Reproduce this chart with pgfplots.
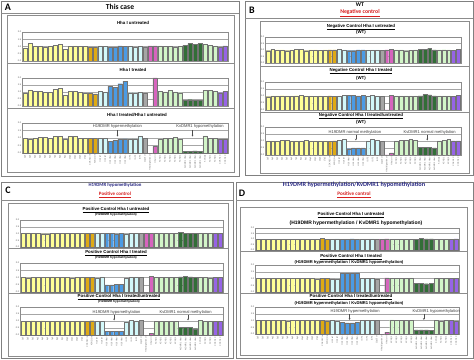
\documentclass[border=0pt]{standalone}
\usepackage{fontspec}
\setmainfont{Liberation Sans}
\newfontfamily\hdr{Carlito}
\usepackage{pgfplots}
\pgfplotsset{compat=1.18}
\usepackage{pgfplotstable}
\usetikzlibrary{arrows.meta}

\definecolor{cY}{RGB}{255,255,150}
\definecolor{cGd}{RGB}{222,170,20}
\definecolor{cLC}{RGB}{210,248,250}
\definecolor{cB}{RGB}{75,155,228}
\definecolor{cGr}{RGB}{165,165,165}
\definecolor{cP}{RGB}{215,100,190}
\definecolor{cLG}{RGB}{210,245,200}
\definecolor{cDG}{RGB}{50,110,55}
\definecolor{cPu}{RGB}{150,100,230}
\definecolor{navy}{RGB}{40,40,130}
\definecolor{hred}{RGB}{215,30,30}

\pgfplotstableread{
x  A1   A2   A3   B1   B2   B3   C1   C2   C3   D1   D2   D3
0  0.90 0.92 1.00 0.95 0.95 1.00 1.00 1.00 1.00 1.00 1.00 1.00
1  1.20 1.16 0.95 1.05 1.00 1.00 1.05 0.98 1.00 1.00 1.02 1.00
2  1.05 1.04 1.00 1.00 1.00 0.97 1.02 1.00 1.02 1.00 1.02 1.00
3  1.00 1.04 1.05 1.00 1.02 1.05 1.00 1.00 1.00 0.98 1.02 1.02
4  0.95 0.96 1.05 0.95 1.00 1.05 0.98 1.00 1.02 0.98 1.00 1.02
5  1.00 0.96 1.00 1.00 1.00 1.00 0.98 1.02 1.00 1.00 1.00 1.00
6  1.10 1.20 1.10 1.05 1.02 1.00 1.02 1.05 1.00 1.00 1.02 0.98
7  1.15 1.27 1.10 1.05 1.05 1.00 1.02 1.02 1.00 0.98 1.00 1.00
8  0.80 0.80 0.90 0.95 1.00 1.05 1.00 1.00 1.02 1.00 1.00 1.00
9  1.00 1.04 1.10 1.00 1.00 1.00 1.00 1.00 1.00 1.00 1.00 1.02
10 1.05 1.04 1.10 1.00 0.98 1.00 1.00 0.98 1.00 1.00 1.00 1.02
11 1.00 0.96 1.00 0.98 1.00 1.00 1.00 1.00 0.98 1.00 1.00 1.00
12 1.00 0.92 1.00 1.00 0.98 1.00 1.00 1.00 1.00 1.00 0.98 1.02
13 0.95 0.92 1.00 1.00 1.00 0.98 1.02 1.00 1.00 1.05 1.02 1.02
14 0.95 0.87 1.00 1.00 0.98 1.00 1.00 1.00 1.02 1.00 1.00 0.98
15 1.05 1.04 1.00 1.05 1.00 1.05 1.05 0.98 1.00 1.00 0.95 1.00
16 1.00 1.00 1.00 1.00 1.05 1.10 1.00 1.05 1.00 1.02 0.98 0.98
17 0.95 1.41 0.78 0.95 1.05 0.45 1.00 0.50 0.25 1.00 1.40 0.85
18 0.95 1.33 0.85 0.95 1.05 0.50 1.00 0.50 0.25 1.00 1.38 0.82
19 1.05 1.59 0.92 1.00 1.00 0.50 0.98 0.55 0.25 1.02 1.40 0.82
20 1.00 1.77 0.95 1.00 1.05 0.50 1.00 0.55 0.28 1.00 1.42 0.85
21 1.00 0.95 0.95 0.98 1.00 1.00 0.98 0.95 0.95 1.00 1.02 1.00
22 0.95 0.95 0.95 1.00 1.05 1.10 1.00 1.05 1.05 1.00 1.00 1.00
23 1.00 0.98 1.15 1.00 1.00 1.05 1.00 1.05 1.02 1.02 1.00 1.00
24 0.95 0.95 1.00 1.00 1.00 1.00 1.00 1.00 1.05 1.00 0.95 1.00
25 1.05 0.00 0.00 1.00 0.00 0.00 1.00 0.00 0.00 1.00 0.00 0.00
26 1.05 2.00 0.45 1.05 1.05 0.15 1.00 1.10 0.12 1.02 1.05 0.12
27 1.05 1.05 0.95 1.00 1.00 1.00 1.00 1.00 1.00 1.00 1.00 1.05
28 1.00 1.00 1.00 1.00 1.00 1.05 1.00 1.00 1.00 1.00 1.02 1.02
29 1.00 1.10 1.00 0.95 1.00 1.05 1.00 1.00 1.00 1.00 1.02 1.02
30 0.95 1.00 1.05 0.98 1.00 1.10 1.00 1.02 1.00 1.00 1.00 1.00
31 1.00 0.95 0.95 1.00 1.00 1.05 1.00 1.00 1.00 1.00 1.05 1.00
32 1.10 0.40 0.10 1.05 1.00 0.55 1.10 1.05 0.55 1.00 0.65 0.30
33 1.20 0.45 0.10 1.05 1.10 0.55 1.00 1.08 0.55 1.05 0.65 0.30
34 1.15 0.40 0.15 1.12 1.08 0.55 1.00 1.05 0.55 1.02 0.62 0.30
35 1.20 0.40 0.10 1.00 1.00 0.50 1.00 1.00 0.45 1.02 0.65 0.28
36 1.15 1.10 1.15 1.00 1.00 1.00 1.00 1.00 1.05 1.00 1.00 1.00
37 1.10 1.10 1.00 1.02 1.00 1.05 1.02 1.00 1.00 1.00 1.00 0.98
38 1.05 1.05 1.00 1.00 1.00 1.10 1.00 0.98 1.00 1.00 1.00 1.00
39 0.95 0.95 0.90 0.98 0.98 1.00 1.02 1.00 1.00 0.98 1.00 1.00
40 1.05 1.05 0.90 1.05 1.05 1.00 1.00 1.02 0.98 1.02 1.02 0.95
}\data

\tikzset{
  ann/.style={font=\fontsize{4.1}{4.5}\selectfont, text=black!75, inner sep=0pt},
  annarrow/.style={-{Stealth[length=1.6pt,width=1.8pt]}, line width=0.35pt, black!70},
}
\pgfplotsset{
  mybar/.style={ybar, bar width=0.82, bar shift=0pt, draw=black!55, line width=0.25pt},
  mini/.style={scale only axis, anchor=north west,
    xmin=-0.6, xmax=40.6, ymin=0, ymax=2,
    ytick={0,0.5,1,1.5,2},
    yticklabel={\pgfmathprintnumber[fixed,fixed zerofill,precision=1]{\tick}},
    /pgf/number format/assume math mode=true,
    yticklabel style={font=\fontsize{2.3}{2.5}\selectfont, text=black!70, inner sep=0.7pt},
    ymajorgrids, grid style={black!35, line width=0.3pt},
    xtick=\empty, axis line style={black!45, line width=0.3pt},
    major tick length=0pt, clip mode=individual},
  ratio/.style={xtick={0,...,40},
    xticklabels={1p36,2q31,3p21,4q25,5q31,6p21,7q22,8q24,9p13,10q26,12p13,14q32,17q21,
      CDKN1C ref,KCNQ1 ref,H19 ref a,H19 ref b,H19 HhaI-1,H19 HhaI-2,H19 HhaI-3,H19 HhaI-4,
      IGF2 a,IGF2 b,IGF2 c,11p15 ctrl,HhaI digestion ctrl,HhaI ctrl 2,
      KCNQ1 a,KCNQ1 b,KCNQ1 c,KCNQ1 d,KCNQ1 e,KvDMR1 HhaI-1,KvDMR1 HhaI-2,KvDMR1 HhaI-3,KvDMR1 HhaI-4,
      KCNQ1 f,KCNQ1 g,KCNQ1 h,CDKN1C a,CDKN1C b},
    x tick label style={rotate=90, anchor=east, font=\fontsize{2.1}{2.3}\selectfont, text=black!60, inner sep=0.5pt}},
}

\newcommand\bars[1]{%
\addplot[mybar, fill=cY,  restrict x to domain=-1:12.5]   table[x=x,y=#1]{\data};
\addplot[mybar, fill=cGd, restrict x to domain=12.5:14.5] table[x=x,y=#1]{\data};
\addplot[mybar, fill=cLC, restrict x to domain=14.5:16.5] table[x=x,y=#1]{\data};
\addplot[mybar, fill=cB,  restrict x to domain=16.5:20.5] table[x=x,y=#1]{\data};
\addplot[mybar, fill=cLC, restrict x to domain=20.5:23.5] table[x=x,y=#1]{\data};
\addplot[mybar, fill=cGr, restrict x to domain=23.5:24.5] table[x=x,y=#1]{\data};
\addplot[mybar, fill=cP,  restrict x to domain=24.5:26.5] table[x=x,y=#1]{\data};
\addplot[mybar, fill=cLG, restrict x to domain=26.5:31.5] table[x=x,y=#1]{\data};
\addplot[mybar, fill=cDG, restrict x to domain=31.5:35.5] table[x=x,y=#1]{\data};
\addplot[mybar, fill=cLG, restrict x to domain=35.5:38.5] table[x=x,y=#1]{\data};
\addplot[mybar, fill=cPu, restrict x to domain=38.5:41]   table[x=x,y=#1]{\data};
}

\newcommand\ttl{\fontsize{4.4}{5}\selectfont\bfseries}
\newcommand\sub{\fontsize{3.2}{3.6}\selectfont\bfseries}
\newcommand\subD{\fontsize{4.1}{4.6}\selectfont\bfseries}
\newcommand\subDa{\fontsize{5}{5.5}\selectfont\bfseries}

\begin{document}
\begin{tikzpicture}[x=1bp,y=1bp]
\useasboundingbox (0,0) rectangle (474,359);
\fill[white] (0,0) rectangle (474,359);

% ---------- outer panel frames ----------
\begin{scope}[draw=black!50, line width=0.9pt]
\draw (1,358) rectangle (239,183);
\draw (245,358) rectangle (473,184);
\draw (1,177) rectangle (233,1);
\draw (236,177) rectangle (473,1);
\end{scope}
\begin{scope}[draw=black!45, line width=0.5pt]
\draw (1,346) -- (239,346);
\draw (245,341) -- (473,341);
\draw (1,159) -- (233,159);
\draw (236,159) -- (473,159);
% chart boxes
\draw (7,344) rectangle (234,296); \draw (7,296) rectangle (234,251); \draw (7,251) rectangle (234,187);
\draw (260,338) rectangle (469,293); \draw (260,293) rectangle (469,247); \draw (260,247) rectangle (469,186);
\draw (8,156) rectangle (228,111); \draw (8,111) rectangle (228,66); \draw (8,66) rectangle (228,3);
\draw (240,152) rectangle (467,108); \draw (240,108) rectangle (467,66); \draw (240,66) rectangle (467,4);
\end{scope}

% ---------- headers ----------
\node[font=\hdr\fontsize{10}{10}\selectfont\bfseries] at (8,352) {A};
\node[font=\hdr\fontsize{7.6}{8}\selectfont\bfseries] at (120,352) {This case};
\node[font=\hdr\fontsize{10}{10}\selectfont\bfseries] at (252,349) {B};
\node[font=\hdr\fontsize{5.8}{6}\selectfont\bfseries] at (360,354) {WT};
\node[font=\hdr\fontsize{5.8}{6}\selectfont\bfseries, text=hred] at (360,346) {\underline{Negative control}};
\node[font=\hdr\fontsize{10}{10}\selectfont\bfseries] at (8,169) {C};
\node[font=\hdr\fontsize{4.8}{5}\selectfont\bfseries, text=navy] at (115,174) {H19DMR hypomethylation};
\node[font=\hdr\fontsize{5}{6}\selectfont\bfseries, text=hred] at (115,164) {\underline{Positive control}};
\node[font=\hdr\fontsize{10}{10}\selectfont\bfseries] at (242,166) {D};
\node[font=\hdr\fontsize{6.3}{7}\selectfont\bfseries, text=navy] at (354,174) {H19DMR hypermethylation/KvDMR1 hypomethylation};
\node[font=\hdr\fontsize{5.2}{6}\selectfont\bfseries, text=hred] at (354,164) {\underline{Positive control}};

% ---------- chart titles ----------
\node[font=\ttl] at (133,336) {Hha I untreated};
\node[font=\ttl] at (133,289) {Hha I treated};
\node[font=\ttl] at (137,244) {Hha I treated/Hha I untreated};

\node[font=\ttl] at (361,332) {\underline{Negative Control Hha I untreated}};
\node[font=\ttl] at (361,327) {(WT)};
\node[font=\ttl] at (361,288) {\underline{Negative Control Hha I treated}};
\node[font=\ttl] at (361,281) {(WT)};
\node[font=\ttl] at (361,243) {\underline{Negative Control Hha I treated/untreated}};
\node[font=\ttl] at (361,237) {(WT)};

\node[font=\ttl] at (116,149) {\underline{Positive Control Hha I untreated}};
\node[font=\sub] at (116,144) {(H19DMR hypomethylation)};
\node[font=\ttl] at (116,106) {\underline{Positive Control Hha I treated}};
\node[font=\sub] at (116,101) {(H19DMR hypomethylation)};
\node[font=\ttl] at (119,62) {\underline{Positive Control Hha I treated/untreated}};
\node[font=\sub] at (119,57) {(H19DMR hypomethylation)};

\node[font=\ttl] at (351,144) {\underline{Positive Control Hha I untreated}};
\node[font=\subDa] at (356,136) {(H19DMR hypermethylation / KvDMR1 hypomethylation)};
\node[font=\ttl] at (351,102) {\underline{Positive Control Hha I treated}};
\node[font=\subD] at (349,97) {(H19DMR hypermethylation / KvDMR1 hypomethylation)};
\node[font=\ttl] at (351,62) {\underline{Positive Control Hha I treated/untreated}};
\node[font=\subD] at (349,56) {(H19DMR hypermethylation / KvDMR1 hypomethylation)};

% ---------- Panel A ----------
\begin{axis}[mini, at={(22bp,327bp)}, width=206bp, height=29bp]
\bars{A1}
\end{axis}
\begin{axis}[mini, at={(22bp,281bp)}, width=206bp, height=28bp]
\bars{A2}
\end{axis}
\begin{axis}[mini, ratio, at={(22bp,236bp)}, width=206bp, height=30bp]
\bars{A3}
\node[ann] at (axis cs:18.5,1.74) {H19DMR hypermethylation};
\draw[annarrow] (axis cs:18.5,1.55) -- (axis cs:18.5,1.1);
\node[ann] at (axis cs:35,1.74) {KvDMR1 hypomethylation};
\draw[annarrow] (axis cs:33.5,1.55) -- (axis cs:33.5,1.1);
\end{axis}

% ---------- Panel B ----------
\begin{axis}[mini, at={(265bp,322bp)}, width=196bp, height=26bp]
\bars{B1}
\end{axis}
\begin{axis}[mini, at={(265bp,277bp)}, width=196bp, height=28bp]
\bars{B2}
\end{axis}
\begin{axis}[mini, ratio, at={(265bp,232bp)}, width=196bp, height=28bp]
\bars{B3}
\node[ann] at (axis cs:18.3,1.64) {H19DMR normal methylation};
\draw[annarrow] (axis cs:18.5,1.45) -- (axis cs:18.5,1.05);
\node[ann] at (axis cs:34,1.64) {KvDMR1 normal methylation};
\draw[annarrow] (axis cs:33.5,1.45) -- (axis cs:33.5,1.05);
\end{axis}

% ---------- Panel C ----------
\begin{axis}[mini, at={(20bp,139bp)}, width=203bp, height=27bp]
\bars{C1}
\end{axis}
\begin{axis}[mini, at={(20bp,96bp)}, width=203bp, height=29bp]
\bars{C2}
\end{axis}
\begin{axis}[mini, ratio, at={(20bp,52bp)}, width=203bp, height=28bp]
\bars{C3}
\node[ann] at (axis cs:19,1.64) {H19DMR hypomethylation};
\draw[annarrow] (axis cs:18.5,1.45) -- (axis cs:18.5,1.05);
\node[ann] at (axis cs:33,1.64) {KvDMR1 normal methylation};
\draw[annarrow] (axis cs:33.5,1.45) -- (axis cs:33.5,1.05);
\end{axis}

% ---------- Panel D ----------
\begin{axis}[mini, at={(255bp,131bp)}, width=204bp, height=22bp]
\bars{D1}
\end{axis}
\begin{axis}[mini, at={(255bp,94bp)}, width=204bp, height=27bp]
\bars{D2}
\end{axis}
\begin{axis}[mini, ratio, at={(255bp,52bp)}, width=204bp, height=27bp]
\bars{D3}
\node[ann] at (axis cs:19.6,1.7) {H19DMR hypermethylation};
\draw[annarrow] (axis cs:18.5,1.5) -- (axis cs:18.5,1.05);
\node[ann] at (axis cs:36,1.7) {KvDMR1 hypomethylation};
\draw[annarrow] (axis cs:33.5,1.5) -- (axis cs:33.5,1.05);
\end{axis}
\end{tikzpicture}
\end{document}
